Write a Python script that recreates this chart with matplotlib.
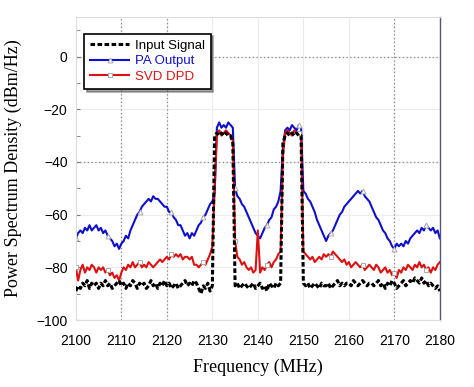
import numpy as np
import matplotlib
matplotlib.use("Agg")
import matplotlib.pyplot as plt

# Frequency grid (MHz), 0.5 MHz steps
freq_start, freq_step = 2100.0, 0.5

input_signal = [
    -89, -87, -88, -86, -87, -85, -88, -86, -87, -86,   # 2100
    -88, -86, -87, -85, -87, -86, -88, -87, -86, -85,   # 2105
    -87, -86, -88, -86, -87, -85, -86, -88, -86, -87,   # 2110
    -86, -88, -87, -85, -87, -86, -88, -86, -87, -85,   # 2115
    -87, -86, -88, -87, -86, -88, -87, -86, -85, -87,   # 2120
    -86, -87, -85, -86, -88, -90, -87, -88, -86, -89,   # 2125
    -87, -30, -29, -30, -29, -30, -29, -30, -30, -33,   # 2130
    -87, -86, -88, -87, -86, -87, -88, -87, -86, -88,   # 2135
    -87, -86, -88, -87, -89, -86, -87, -88, -86, -87,   # 2140
    -86, -33, -30, -29, -30, -29, -30, -29, -30, -30,   # 2145
    -86, -87, -86, -88, -87, -86, -87, -88, -86, -87,   # 2150
    -87, -86, -88, -87, -86, -85, -87, -86, -87, -86,   # 2155
    -86, -87, -85, -86, -87, -86, -85, -86, -87, -86,   # 2160
    -86, -87, -86, -85, -87, -86, -88, -86, -87, -85,   # 2165
    -86, -88, -87, -86, -85, -87, -86, -85, -86, -84,   # 2170
    -85, -86, -84, -86, -85, -87, -86, -87, -88, -87,   # 2175
    -89,                                                # 2180
]

pa_output = [
    -69, -67, -66, -67, -65, -66, -64, -66, -65, -64,   # 2100
    -66, -65, -67, -66, -68, -69, -70, -72, -71, -73,   # 2105
    -71, -70, -68, -69, -66, -64, -62, -60, -59, -57,   # 2110
    -56, -55, -54, -55, -53, -54, -54, -55, -56, -57,   # 2115
    -57, -59, -59, -61, -62, -64, -64, -66, -68, -67,   # 2120
    -69, -67, -68, -66, -64, -63, -61, -60, -58, -56,   # 2125
    -55, -52, -27, -25, -27, -26, -27, -25, -26, -27,   # 2130
    -50, -53, -54, -56, -57, -59, -61, -63, -65, -67,   # 2135
    -68, -69, -67, -65, -64, -62, -61, -58, -57, -55,   # 2140
    -51, -35, -28, -27, -28, -26, -27, -28, -26, -27,   # 2145
    -51, -52, -54, -55, -57, -59, -62, -64, -66, -68,   # 2150
    -70, -68, -67, -66, -64, -62, -60, -59, -57, -56,   # 2155
    -55, -54, -53, -52, -51, -52, -51, -53, -54, -55,   # 2160
    -57, -59, -61, -62, -64, -66, -67, -69, -70, -72,   # 2165
    -73, -71, -72, -71, -72, -70, -71, -69, -68, -67,   # 2170
    -66, -67, -65, -66, -64, -65, -66, -65, -67, -66,   # 2175
    -69,                                                # 2180
]

svd_dpd = [
    -80, -85, -81, -79, -82, -80, -81, -79, -80, -82,   # 2100
    -80, -81, -80, -82, -81, -83, -82, -84, -83, -85,   # 2105
    -82, -80, -81, -79, -80, -78, -80, -79, -78, -80,   # 2110
    -79, -80, -78, -79, -80, -79, -78, -77, -78, -77,   # 2115
    -76, -77, -75, -76, -75, -76, -75, -77, -76, -76,   # 2120
    -77, -76, -79, -79, -80, -79, -78, -79, -77, -75,   # 2125
    -72, -50, -29, -28, -30, -29, -28, -29, -30, -32,   # 2130
    -70, -76, -77, -79, -78, -80, -81, -80, -82, -81,   # 2135
    -66, -82, -80, -81, -79, -78, -80, -78, -77, -75,   # 2140
    -74, -38, -29, -28, -29, -30, -28, -29, -29, -30,   # 2145
    -74, -75, -76, -77, -76, -78, -77, -76, -77, -75,   # 2150
    -76, -75, -76, -74, -75, -76, -77, -78, -77, -79,   # 2155
    -78, -80, -79, -78, -79, -80, -79, -81, -80, -79,   # 2160
    -80, -81, -79, -80, -82, -81, -80, -82, -81, -83,   # 2165
    -82, -84, -81, -82, -80, -81, -79, -80, -81, -79,   # 2170
    -80, -78, -80, -79, -81, -80, -82, -80, -81, -79,   # 2175
    -78,                                                # 2180
]

x_ticks = [2100, 2110, 2120, 2130, 2140, 2150, 2160, 2170, 2180]
y_ticks = [-100, -80, -60, -40, -20, 0]

freq = freq_start + freq_step * np.arange(len(input_signal))

fig = plt.figure(figsize=(4.74, 3.87), dpi=100)
ax = fig.add_axes([0.160, 0.173, 0.768, 0.783])

# faint grid plus a few dotted reference lines as in the original
for xv in x_ticks:
    ax.axvline(xv, color="#ececec", lw=0.8, zorder=0)
for yv in y_ticks:
    ax.axhline(yv, color="#ececec", lw=0.8, zorder=0)
for xv in [2110, 2120, 2170]:
    ax.axvline(xv, color="#888888", lw=0.9, ls=(0, (1, 2)), zorder=0.5)
for yv in [0, -40]:
    ax.axhline(yv, color="#888888", lw=0.9, ls=(0, (1, 2)), zorder=0.5)

ax.plot(freq, pa_output, color="#1010cc", lw=1.5, marker="^", ms=3.5,
        mfc="white", mec="#aaaaaa", mew=0.7, markevery=14,
        label="PA Output", zorder=2)
ax.plot(freq, svd_dpd, color="#dd1111", lw=1.5, marker="s", ms=3.5,
        mfc="white", mec="#aaaaaa", mew=0.7, markevery=14,
        label="SVD DPD", zorder=3)
ax.plot(freq, input_signal, color="black", lw=2.2, ls=(0, (1.5, 0.8)),
        label="Input Signal", zorder=4)

ax.set_xlim(2100, 2180)
ax.set_ylim(-100, 15)
ax.set_xticks(x_ticks)
ax.set_yticks(y_ticks)
ax.set_yticks(np.arange(-90, 15, 20), minor=True)
ax.tick_params(axis="both", which="both", direction="in", length=3,
               color="#777777", labelsize=10, pad=6)
ax.tick_params(axis="x", which="major", length=0, pad=10)
for lab in ax.get_xticklabels() + ax.get_yticklabels():
    lab.set_family(["Liberation Sans", "DejaVu Sans"])

for s in ["left", "bottom", "top"]:
    ax.spines[s].set_color("#dddddd")
ax.spines["right"].set_color("#555577")
ax.spines["right"].set_linewidth(1.0)

ax.set_xlabel("Frequency (MHz)", family=["Liberation Serif", "DejaVu Serif"],
              fontsize=13, labelpad=8)
ax.set_ylabel("Power Spectrum Density (dBm/Hz)",
              family=["Liberation Serif", "DejaVu Serif"], fontsize=13,
              labelpad=10)

handles, labels = ax.get_legend_handles_labels()
order = [2, 0, 1]
leg = ax.legend([handles[i] for i in order], [labels[i] for i in order],
                loc="upper left", bbox_to_anchor=(0.022, 0.945),
                frameon=True, fancybox=False, shadow=True, edgecolor="black",
                prop={"family": ["Liberation Sans", "DejaVu Sans"], "size": 9.5},
                handlelength=3.0, handletextpad=0.4, borderpad=0.45,
                labelspacing=0.25, borderaxespad=0)
leg.get_frame().set_linewidth(1.2)
leg.set_zorder(10)
for txt, c in zip(leg.get_texts(), ["black", "#1010cc", "#dd1111"]):
    txt.set_color(c)

fig.savefig("out.png", dpi=100)
